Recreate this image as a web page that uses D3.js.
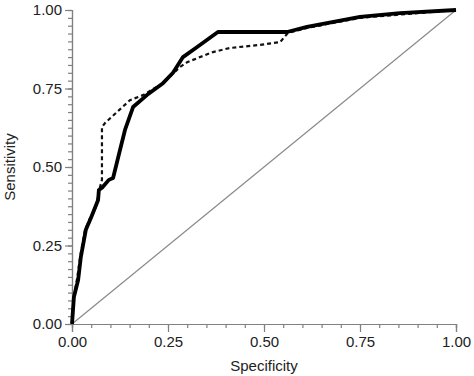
<!DOCTYPE html>
<html>
<head>
<meta charset="utf-8">
<script src="https://cdn.jsdelivr.net/npm/d3@7"></script>
<style>
  body { margin: 0; background: #fff; }
  svg text { font-family: "Liberation Sans", Arial, sans-serif; fill: #222; }
</style>
</head>
<body>
<div id="container"></div>
<script>
// ROC curves: [specificity, sensitivity]
const solidCurve = [
  [0, 0], [0.005, 0.086], [0.016, 0.14], [0.023, 0.213], [0.036, 0.30],
  [0.05, 0.34], [0.068, 0.395], [0.07, 0.427], [0.08, 0.436], [0.096, 0.459],
  [0.107, 0.465], [0.125, 0.554], [0.138, 0.618], [0.159, 0.691], [0.195, 0.729],
  [0.237, 0.767], [0.263, 0.80], [0.289, 0.85], [0.326, 0.882], [0.38, 0.93],
  [0.56, 0.93], [0.612, 0.946], [0.75, 0.978], [0.854, 0.99], [1, 1]
];
const dashedCurve = [
  [0, 0], [0.004, 0.08], [0.014, 0.15], [0.022, 0.22], [0.034, 0.30],
  [0.048, 0.34], [0.06, 0.363], [0.073, 0.436], [0.078, 0.459], [0.078, 0.627],
  [0.086, 0.64], [0.151, 0.713], [0.185, 0.729], [0.237, 0.767], [0.281, 0.818],
  [0.30, 0.834], [0.367, 0.866], [0.411, 0.879], [0.49, 0.889], [0.542, 0.898],
  [0.5625, 0.927], [0.612, 0.943], [0.75, 0.975], [1, 1]
];
const diagonal = [[0, 0], [1, 1]];
const majorTicks = [0, 0.25, 0.5, 0.75, 1];
const xMinorTicks = d3.range(0, 21).map(i => i * 0.05);
const yMinorTicks = d3.range(0, 41).map(i => i * 0.025);

const width = 474, height = 376;
const margin = {top: 10, right: 18, bottom: 52, left: 72};
const w = width - margin.left - margin.right;
const h = height - margin.top - margin.bottom;

const svg = d3.select("#container").append("svg")
  .attr("width", width)
  .attr("height", height);
const g = svg.append("g")
  .attr("transform", `translate(${margin.left},${margin.top})`);

const x = d3.scaleLinear().domain([0, 1]).range([0, w]);
const y = d3.scaleLinear().domain([0, 1]).range([h, 0]);

// minor ticks
g.append("g")
  .attr("transform", `translate(0,${h})`)
  .call(d3.axisBottom(x).tickValues(xMinorTicks).tickSize(4).tickFormat(""));
g.append("g")
  .call(d3.axisLeft(y).tickValues(yMinorTicks).tickSize(4).tickFormat(""));

// major ticks
const xAxis = g.append("g")
  .attr("transform", `translate(0,${h})`)
  .call(d3.axisBottom(x).tickValues(majorTicks).tickSize(8).tickPadding(4).tickFormat(d3.format(".2f")));
const yAxis = g.append("g")
  .call(d3.axisLeft(y).tickValues(majorTicks).tickSize(7).tickPadding(3).tickFormat(d3.format(".2f")));

g.selectAll(".domain, .tick line").attr("stroke", "#808080").attr("stroke-width", 1.2);
g.selectAll(".tick text").style("font-size", "15px").attr("fill", "#222");

// axis titles
svg.append("text")
  .attr("x", margin.left + w / 2)
  .attr("y", 371)
  .attr("text-anchor", "middle")
  .style("font-size", "15px")
  .text("Specificity");
svg.append("text")
  .attr("transform", `translate(15,${margin.top + h / 2}) rotate(-90)`)
  .attr("text-anchor", "middle")
  .style("font-size", "15px")
  .text("Sensitivity");

const line = d3.line().x(d => x(d[0])).y(d => y(d[1]));

g.append("path")
  .datum(diagonal)
  .attr("d", line)
  .attr("fill", "none")
  .attr("stroke", "#8a8a8a")
  .attr("stroke-width", 1.2);

g.append("path")
  .datum(dashedCurve)
  .attr("d", line)
  .attr("fill", "none")
  .attr("stroke", "#111")
  .attr("stroke-width", 2.2)
  .attr("stroke-dasharray", "4,3");

g.append("path")
  .datum(solidCurve)
  .attr("d", line)
  .attr("fill", "none")
  .attr("stroke", "#000")
  .attr("stroke-width", 3.8)
  .attr("stroke-linejoin", "round");
</script>
</body>
</html>
